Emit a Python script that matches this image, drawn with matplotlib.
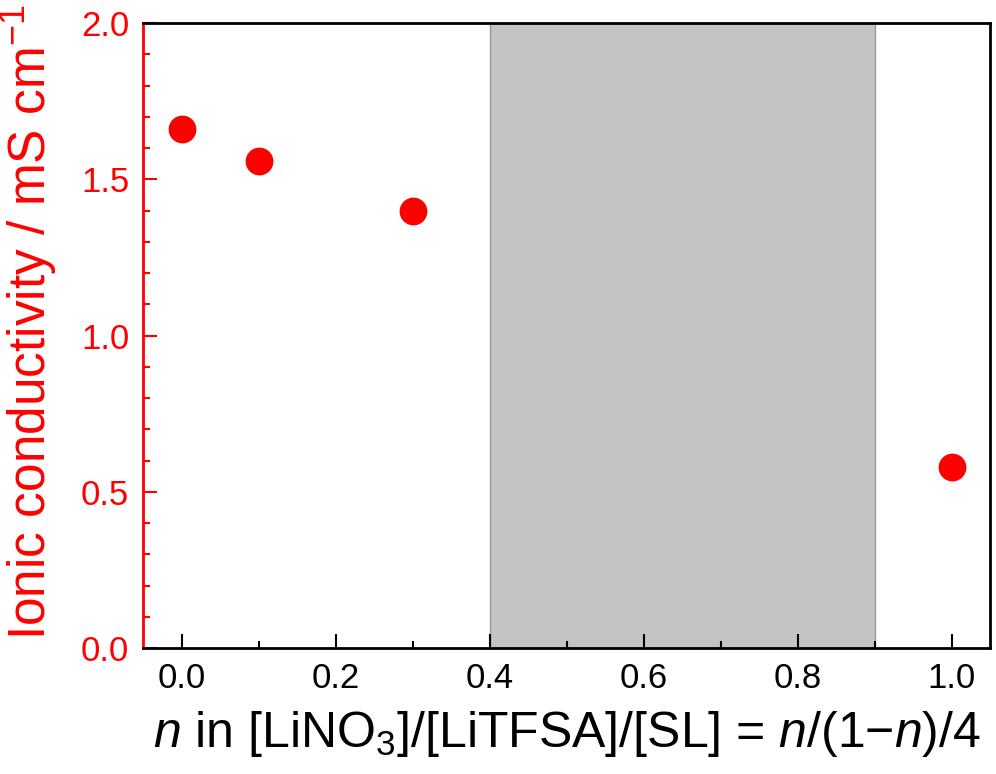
import matplotlib.pyplot as plt
from matplotlib.ticker import MultipleLocator

# datos
n_vals = [0.0, 0.1, 0.3, 1.0]
sigma = [1.66, 1.56, 1.40, 0.58]
shade_range = [0.4, 0.9]
x_ticks = [0.0, 0.2, 0.4, 0.6, 0.8, 1.0]
y_ticks = [0.0, 0.5, 1.0, 1.5, 2.0]

plt.rcParams['font.family'] = ['Liberation Sans', 'DejaVu Sans']
plt.rcParams['mathtext.fontset'] = 'custom'
plt.rcParams['mathtext.rm'] = 'Liberation Sans'
plt.rcParams['mathtext.it'] = 'Liberation Sans:italic'

fig = plt.figure(figsize=(9.96, 7.74), dpi=100)
ax = fig.add_axes([0.1436, 0.1628, 0.8504, 0.8072])

ax.axvspan(shade_range[0], shade_range[1], facecolor='#c4c4c4', edgecolor='#9a9a9a', linewidth=1, zorder=0)
ax.plot(n_vals, sigma, 'o', color='#ff0000', markersize=19, zorder=3)

ax.set_xlim(-0.05, 1.05)
ax.set_ylim(0, 2.0)
ax.set_xticks(x_ticks)
ax.set_yticks(y_ticks)
ax.xaxis.set_minor_locator(MultipleLocator(0.1))
ax.yaxis.set_minor_locator(MultipleLocator(0.1))

ax.tick_params(which='both', direction='in', width=1.5, labelsize=25, pad=10)
ax.tick_params(which='major', length=10)
ax.tick_params(which='minor', length=5)
ax.tick_params(axis='y', which='both', colors='#ff0000')
ax.tick_params(axis='x', which='both', colors='black')

for s in ax.spines.values():
    s.set_linewidth(2)
ax.spines['left'].set_color('#ff0000')

ax.set_xticklabels(['0.0', '0.2', '0.4', '0.6', '0.8', '1.0'])
ax.set_yticklabels(['0.0', '0.5', '1.0', '1.5', '2.0'])

ax.set_xlabel(r'$n$ in [LiNO$_3$]/[LiTFSA]/[SL] = $n$/(1$-$$n$)/4', fontsize=36, labelpad=10)
ax.set_ylabel(r'Ionic conductivity / mS cm$^{-1}$', fontsize=37, color='#ff0000')
ax.yaxis.set_label_coords(-0.098, 0.521)

plt.savefig('out.png', dpi=100)
